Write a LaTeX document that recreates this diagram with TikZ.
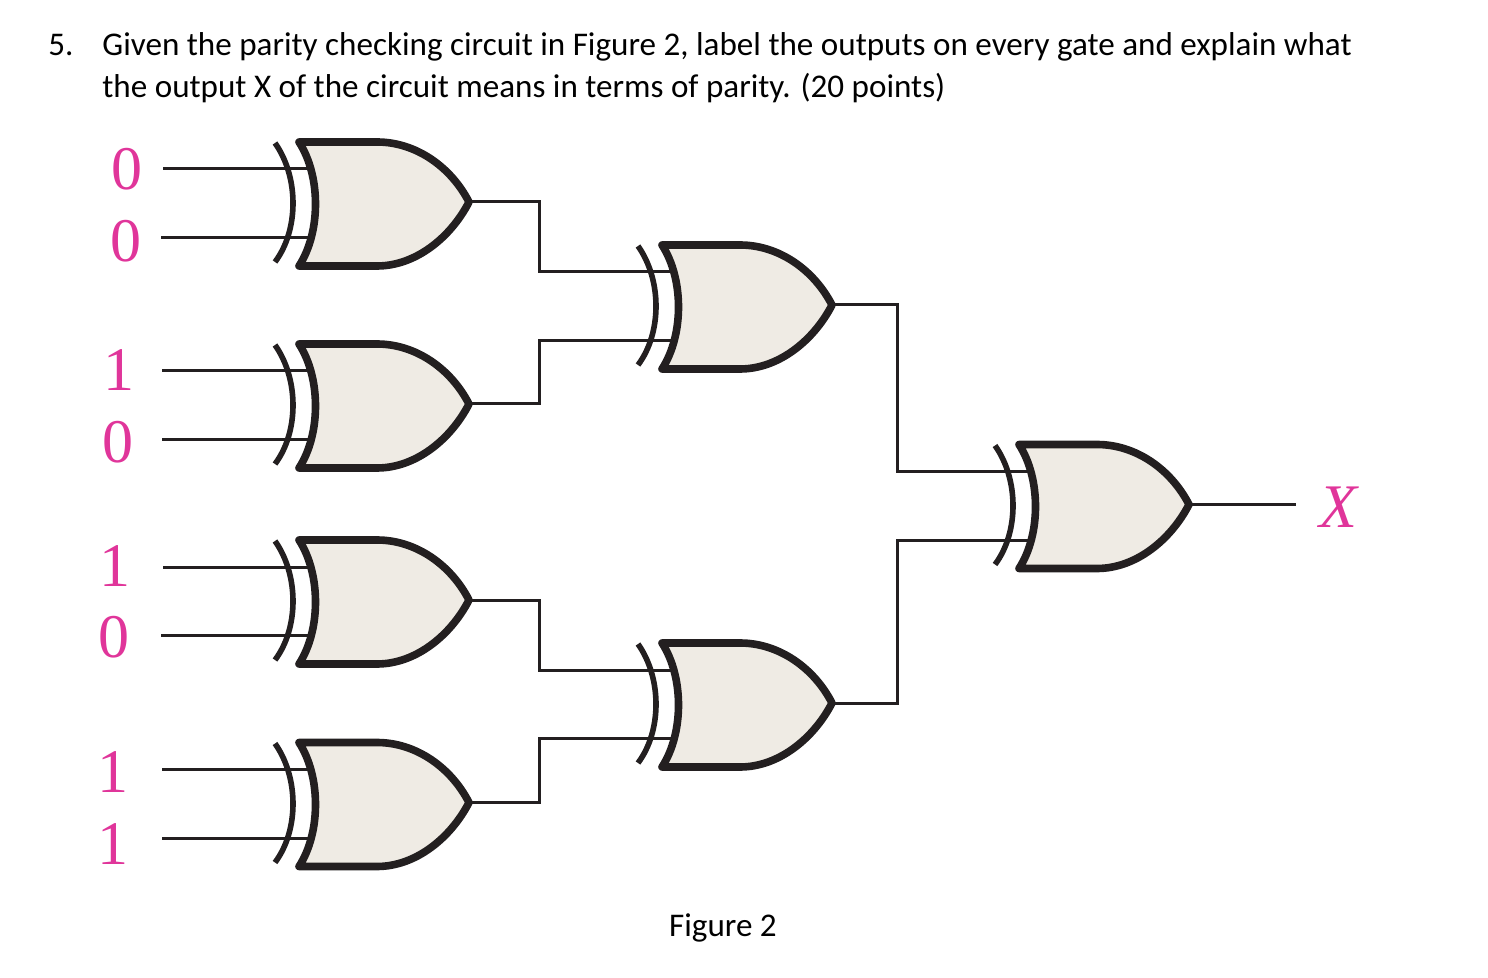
\documentclass[tikz,border=0pt]{standalone}
\usepackage{fontspec}
\setmainfont{Carlito}
\newfontfamily\labelfont{Liberation Serif}
\definecolor{gatefill}{HTML}{EFEBE4}
\definecolor{labelpink}{HTML}{E0359A}
\definecolor{inkblack}{HTML}{231F20}
\tikzset{
  wire/.style={draw=inkblack,line width=1.5pt},
  inlabel/.style={text=labelpink,inner sep=0pt,font=\labelfont\fontsize{31}{31}\selectfont},
  textline/.style={anchor=base west,inner sep=0pt,font=\fontsize{16.55}{18}\selectfont},
  xorgate/.pic={
    \draw[draw=inkblack,fill=gatefill,line width=3.8pt,line join=round]
      (-172,-60) -- (-94,-60) .. controls (-55,-60) and (-20,-35) .. (-2,0)
      .. controls (-20,35) and (-55,64) .. (-94,64) -- (-172,64)
      .. controls (-150,30) and (-150,-26) .. (-172,-60) -- cycle;
    \draw[draw=inkblack,line width=2.8pt] (-196,-59) .. controls (-172,-25) and (-172,28) .. (-196,60);
    \coordinate (-a) at (-160,-33);
    \coordinate (-b) at (-160,35.5);
    \coordinate (-out) at (-2,0);
  }
}
\begin{document}
\begin{tikzpicture}[x=0.5pt,y=-0.5pt]
  \useasboundingbox (0,0) rectangle (1488,978);

  % Question text
  \node[textline] (num) at (48,56) {5.};
  \node[textline] (line1) at (102,56) {Given the parity checking circuit in Figure 2, label the outputs on every gate and explain what};
  \node[textline] (line2) at (102,98) {the output X of the circuit means in terms of parity. (20 points)};

  % Gates
  \pic (g1) at (471,202) {xorgate};
  \pic (g2) at (471,404) {xorgate};
  \pic (g3) at (471,600) {xorgate};
  \pic (g4) at (471,802.5) {xorgate};
  \pic (g5) at (834,305) {xorgate};
  \pic (g6) at (834,703) {xorgate};
  \pic (g7) at (1191,504.5) {xorgate};

  % Input labels and their wires
  \foreach \name/\lx/\ly/\val/\sx/\gate in {
    a/127/169/0/163/g1-a, b/126/241/0/161/g1-b,
    c/119/370/1/162/g2-a, d/118/442/0/162/g2-b,
    e/115/566/1/163/g3-a, f/114/637/0/161/g3-b,
    g/113/772/1/162/g4-a, h/113/844/1/162/g4-b}{
    \node[inlabel] (lab\name) at (\lx,\ly) {\val};
    \coordinate (in\name) at (\sx,0);
    \draw[wire] (in\name |- \gate) -- (\gate);
  }

  % Wires between gates
  \draw[wire] (g1-out) -- ++(70,0) |- (g5-a);
  \draw[wire] (g2-out) -- ++(70,0) |- (g5-b);
  \draw[wire] (g3-out) -- ++(70,0) |- (g6-a);
  \draw[wire] (g4-out) -- ++(70,0) |- (g6-b);
  \draw[wire] (g5-out) -- ++(65,0) |- (g7-a);
  \draw[wire] (g6-out) -- ++(65,0) |- (g7-b);

  % Output
  \node[inlabel,font=\labelfont\itshape\fontsize{31}{31}\selectfont] (labx) at (1338,507) {X};
  \coordinate (outx) at (1296,504.5);
  \draw[wire] (g7-out) -- (outx);

  \node[inner sep=0pt,anchor=base,font=\fontsize{16.55}{18}\selectfont] (cap) at (723,936) {Figure 2};
\end{tikzpicture}
\end{document}
